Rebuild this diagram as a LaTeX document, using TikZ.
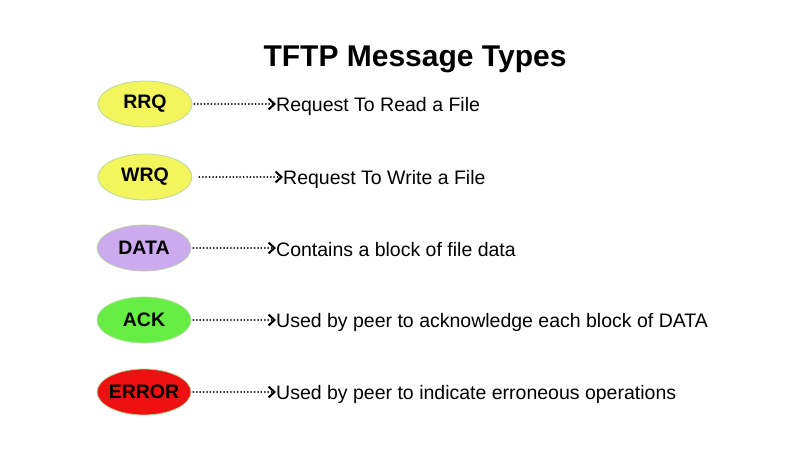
\documentclass[tikz,border=0pt]{standalone}
\usepackage{fontspec}
\setmainfont{Liberation Sans}
\usetikzlibrary{shapes.geometric,arrows.meta}
\definecolor{cyel}{HTML}{F4F55C}
\definecolor{cpur}{HTML}{CDA9F0}
\definecolor{cgrn}{HTML}{66EE44}
\definecolor{cred}{HTML}{EE1111}
\definecolor{cedge}{HTML}{B8D8A0}
\tikzset{
  msg/.style={ellipse, draw=cedge, line width=0.8pt, minimum width=94pt, minimum height=46pt, inner sep=0pt, font=\fontsize{19.5}{22}\selectfont\bfseries},
  desc/.style={anchor=west, inner sep=0pt, font=\fontsize{19.5}{22}\selectfont},
  conn/.style={line width=2pt, line cap=round, dash pattern=on 0pt off 3.4pt, -{Straight Barb[length=6pt,width=11pt,line width=2pt]}},
}
\begin{document}
\begin{tikzpicture}[x=1pt,y=1pt]
\useasboundingbox[fill=white] (0,0) rectangle (800,450);
\node[font=\fontsize{30}{34}\selectfont\bfseries] (title) at (415,391) {TFTP Message Types};
\node[msg, fill=cyel] (rrq) at (145,346) {RRQ};
\node[msg, fill=cyel] (wrq) at (145,273) {WRQ};
\node[msg, fill=cpur] (data) at (144,202) {DATA};
\node[msg, fill=cgrn] (ack) at (144,130) {ACK};
\node[msg, fill=cred, inner xsep=-3pt] (err) at (144,58) {ERROR};
\node[desc] (trrq) at (276,344) {Request To Read a File};
\node[desc] (twrq) at (283,271) {Request To Write a File};
\node[desc] (tdata) at (276,200) {Contains a block of file data};
\node[desc] (tack) at (276,128) {Used by peer to acknowledge each block of DATA};
\node[desc] (terr) at (276,56) {Used by peer to indicate erroneous operations};
\draw[conn, shorten <=2pt] (rrq.east) -- (trrq.west |- rrq.east);
\draw[conn, shorten <=7pt] (wrq.east) -- (twrq.west |- wrq.east);
\draw[conn, shorten <=2pt] (data.east) -- (tdata.west |- data.east);
\draw[conn, shorten <=2pt] (ack.east) -- (tack.west |- ack.east);
\draw[conn, shorten <=2pt] (err.east) -- (terr.west |- err.east);
\end{tikzpicture}
\end{document}
